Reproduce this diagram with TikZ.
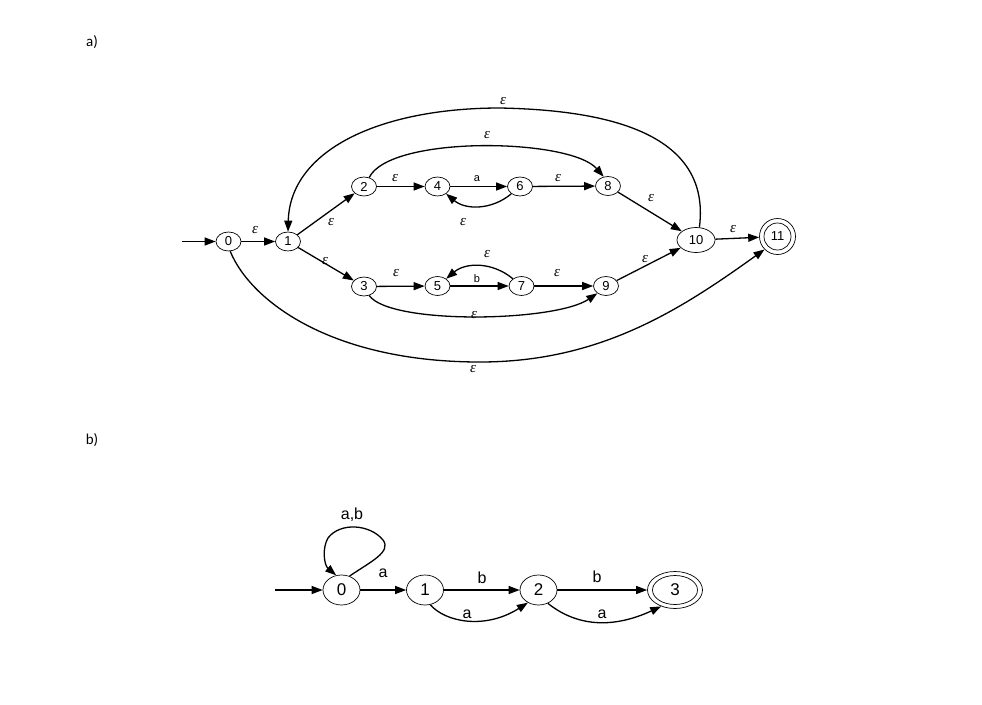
\documentclass[tikz,border=0pt]{standalone}
\usepackage{fontspec}
\setmainfont{Liberation Sans}
\newfontfamily\carl{Carlito}
\newfontfamily\epsfont{Liberation Serif}
\usetikzlibrary{arrows.meta,shapes.geometric}
\newcommand{\ep}{\epsfont\itshape ε}
\begin{document}
\begin{tikzpicture}[x=1pt,y=-1pt,
  st/.style={ellipse,draw,line width=0.7pt,inner sep=0pt,minimum width=25pt,minimum height=19pt,font=\fontsize{13}{13}\selectfont},
  stb/.style={ellipse,draw,line width=0.7pt,inner sep=0pt,minimum width=37pt,minimum height=30pt,font=\fontsize{17}{17}\selectfont},
  edge/.style={-{Triangle[length=11pt,width=8pt]},line width=1.3pt},
  eps/.style={font=\fontsize{15}{15}\selectfont},
  lab/.style={font=\fontsize{11}{11}\selectfont},
  labb/.style={font=\fontsize{16}{16}\selectfont},
  part/.style={font=\carl\fontsize{15}{15}\selectfont}]
\useasboundingbox (0,0) rectangle (982,704);
\fill[white] (0,0) rectangle (982,704);

\node[part] (pa) at (92,42) {a)};
\node[part] (pb) at (92,440) {b)};

% ---- part a
\node[st] (n0) at (228.5,241.5) {0};
\node[st] (n1) at (288,241.5) {1};
\node[st] (n2) at (364,186.5) {2};
\node[st] (n4) at (437.5,186.5) {4};
\node[st] (n6) at (520,186.5) {6};
\node[st] (n8) at (608,186) {8};
\node[st] (n3) at (364,286.5) {3};
\node[st] (n5) at (437.5,286) {5};
\node[st] (n7) at (521.5,286) {7};
\node[st] (n9) at (606,286) {9};
\node[st,minimum width=38pt,minimum height=25pt] (n10) at (696,240) {10};
\node[circle,draw,line width=0.7pt,inner sep=0pt,minimum size=36pt,font=\fontsize{13}{13}\selectfont] (n11) at (777.5,236.5) {11};
\draw[line width=0.7pt] (n11.center) circle (13.5pt);
\coordinate (sa) at (182,241.5);

\draw[edge] (sa) -- (n0);
\draw[edge] (n0) -- (n1) node[eps] at (255,230) {\ep};
\draw[edge] (n1) -- (n2) node[eps] at (331,222) {\ep};
\draw[edge] (n1) -- (n3) node[eps] at (325,261) {\ep};
\draw[edge] (n2) -- (n4) node[eps] at (395,178) {\ep};
\draw[edge] (n4) -- (n6) node[lab] at (477,179) {a};
\draw[edge] (n6) to[out=-140,in=-40] (n4) node[eps] at (463,222) {\ep};
\draw[edge] (n6) -- (n8) node[eps] at (558,178) {\ep};
\draw[edge] (n8) -- (n10) node[eps] at (651,198) {\ep};
\draw[edge] (n10) -- (n11) node[eps] at (733,229) {\ep};
\draw[edge] (n3) -- (n5) node[eps] at (396,273) {\ep};
\draw[edge] (n5) -- (n7) node[lab] at (477,279) {b};
\draw[edge] (n7) to[out=140,in=40] (n5) node[eps] at (487,254) {\ep};
\draw[edge] (n7) -- (n9) node[eps] at (557,273) {\ep};
\draw[edge] (n9) -- (n10) node[eps] at (645,259) {\ep};
\draw[edge] (n2.60) .. controls (390,135) and (570,138) .. (n8.115) node[eps] at (487,135) {\ep};
\draw[edge] (n3.-60) .. controls (390,325) and (555,322) .. (n9.-140) node[eps] at (474,315) {\ep};
\draw[edge] (n10.75) .. controls (712,130) and (600,110) .. (500,108) .. controls (380,108) and (290,150) .. (n1.north) node[eps] at (503,101) {\ep};
\draw[edge] (n0.-80) .. controls (250,300) and (330,362) .. (480,362) .. controls (600,362) and (680,310) .. (n11.-135) node[eps] at (473,369) {\ep};

% ---- part b
\node[stb] (m0) at (341.5,590) {0};
\node[stb] (m1) at (425,590) {1};
\node[stb] (m2) at (538.5,590) {2};
\node[ellipse,draw,line width=0.7pt,inner sep=0pt,minimum width=55pt,minimum height=37pt,font=\fontsize{17}{17}\selectfont] (m3) at (675,590) {3};
\draw[line width=0.7pt] (m3.center) ellipse (22.5pt and 14.5pt);
\coordinate (sb) at (275,590);

\draw[edge] (sb) -- (m0);
\draw[edge] (m0) -- (m1) node[labb] at (383,573) {a};
\draw[edge] (m1) -- (m2) node[labb] at (482,578) {b};
\draw[edge] (m2) -- (m3) node[labb] at (597,577) {b};
\draw[edge] (m1.-70) .. controls (445,622) and (485,630) .. (m2.-130) node[labb] at (467,614) {a};
\draw[edge] (m2.-55) .. controls (575,625) and (610,630) .. (m3.-130) node[labb] at (602,614) {a};
\draw[edge] (m0.60) .. controls (370,562) and (392,552) .. (383,540) .. controls (370,524) and (340,522) .. (328,538) .. controls (322,548) and (324,565) .. (m0.110) node[labb] at (352,515) {a,b};
\end{tikzpicture}
\end{document}
